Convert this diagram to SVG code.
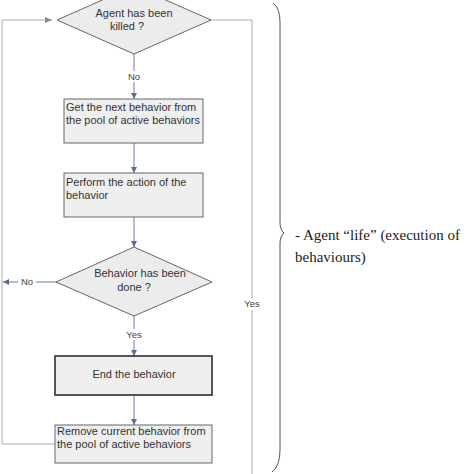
<svg xmlns="http://www.w3.org/2000/svg" width="474" height="474" viewBox="0 0 474 474">
<style>
.box{fill:#efefef;stroke:#666;stroke-width:1}
.dbox{fill:#efefef;stroke:#444;stroke-width:1.8}
.dia{fill:#ececec;stroke:#666;stroke-width:1}
.t{font-family:"Liberation Sans",Arial,sans-serif;font-size:11px;fill:#333}
.c{text-anchor:middle}
.lbl{font-family:"Liberation Sans",Arial,sans-serif;font-size:9.5px;fill:#444;text-anchor:middle}
.arr{stroke:#6a7aa0;stroke-width:1;fill:none;marker-end:url(#ah)}
.loop{stroke:#aaa;stroke-width:1;fill:none}
.serif{font-family:"Liberation Serif","Times New Roman",serif;font-size:15px;fill:#222}
</style>
<defs>
<marker id="ah" markerWidth="6" markerHeight="6" refX="6" refY="3" orient="auto" markerUnits="userSpaceOnUse">
<path d="M0,0 L6,3 L0,6 Z" fill="#5a6e9a"/>
</marker>
</defs>
<rect width="474" height="474" fill="#fff"/>
<g id="connectors">
<polyline class="loop" points="55,444 2,444 2,20 52,20"/>
<path d="M45,17 L52,20 L45,23 Z" fill="#7a8ab0"/>
<polyline class="loop" points="211,20 252,20 252,474"/>
<line class="arr" x1="134" y1="54" x2="134" y2="99"/>
<line class="arr" x1="134" y1="143" x2="134" y2="173"/>
<line class="arr" x1="134" y1="217" x2="134" y2="247"/>
<line class="arr" x1="56" y1="282" x2="3" y2="282"/>
<line class="arr" x1="134" y1="316" x2="134" y2="356"/>
<line class="arr" x1="134" y1="395" x2="134" y2="425"/>
<rect x="124" y="71" width="20" height="11" fill="#fff"/>
<text class="lbl" x="134" y="80">No</text>
<rect x="18" y="276" width="18" height="11" fill="#fff"/>
<text class="lbl" x="27" y="285">No</text>
<rect x="123" y="329" width="22" height="11" fill="#fff"/>
<text class="lbl" x="134" y="338">Yes</text>
<rect x="243" y="298" width="18" height="12" fill="#fff"/>
<text class="lbl" x="252" y="307">Yes</text>
</g>
<g id="killed">
<polygon class="dia" points="134,-14 211,20 134,54 57,20"/>
<text class="t c" x="134" y="17">Agent has been</text>
<text class="t c" x="127" y="30">killed ?</text>
</g>
<g id="getnext">
<rect class="box" x="64" y="99" width="139" height="44"/>
<text class="t" x="66" y="111">Get the next behavior from</text>
<text class="t" x="66" y="124">the pool of active behaviors</text>
</g>
<g id="perform">
<rect class="box" x="64" y="173" width="139" height="44"/>
<text class="t" x="66" y="186">Perform the action of the</text>
<text class="t" x="66" y="199">behavior</text>
</g>
<g id="done">
<polygon class="dia" points="134,247 212,282 134,316 56,282"/>
<text class="t c" x="140" y="277">Behavior has been</text>
<text class="t c" x="134" y="291">done ?</text>
</g>
<g id="end">
<rect class="dbox" x="55" y="356" width="157" height="39"/>
<text class="t c" x="134" y="378">End the behavior</text>
</g>
<g id="remove">
<rect class="box" x="55" y="425" width="157" height="38"/>
<text class="t" x="57" y="435">Remove current behavior from</text>
<text class="t" x="57" y="448">the pool of active behaviors</text>
</g>
<g id="brace">
<path d="M273,3 Q280,8 280,22 L280,222 Q280,230 284,233 Q280,236 280,244 L280,450 Q280,466 272,472" fill="none" stroke="#555" stroke-width="1"/>
<text class="serif" x="295" y="240">- Agent “life” (execution of</text>
<text class="serif" x="295" y="262">behaviours)</text>
</g>
</svg>
